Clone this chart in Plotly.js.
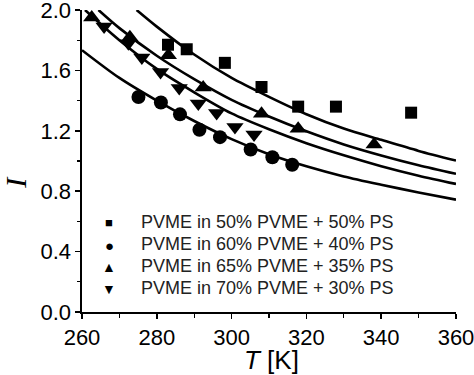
<!DOCTYPE html>
<html>
<head>
<meta charset="utf-8">
<script src="https://cdn.plot.ly/plotly-3.0.1.min.js"></script>
<style>html,body{margin:0;padding:0;background:#fff;overflow:hidden;}#plot{width:474px;height:375px;}</style>
</head>
<body>
<div id="plot"></div>
<script>
// Measured points
var labels = ["PVME in 50% PVME + 50% PS", "PVME in 60% PVME + 40% PS", "PVME in 65% PVME + 35% PS", "PVME in 70% PVME + 30% PS"];
var symbols = ["square", "circle", "triangle-up", "triangle-down"];
var legendGlyphs = ["\u25A0", "\u25CF", "\u25B2", "\u25BC"];

var sqT = [283, 288, 298.2, 308, 317.8, 327.9, 348];
var sqI = [1.77, 1.74, 1.65, 1.49, 1.36, 1.36, 1.32];

var ciT = [275.1, 281.1, 286.2, 291.4, 296.9, 305.1, 310.9, 316.2];
var ciI = [1.424, 1.387, 1.309, 1.207, 1.158, 1.076, 1.025, 0.975];

var tuT = [262.6, 272.8, 283.1, 292.4, 308.0, 317.8, 338.1];
var tuI = [1.95, 1.82, 1.70, 1.486, 1.313, 1.214, 1.11];

var tdT = [265.9, 272.4, 276, 281, 286, 291.1, 296, 300.9, 306];
var tdI = [1.89, 1.78, 1.686, 1.59, 1.484, 1.38, 1.318, 1.225, 1.176];

// Fitted curves
var fitSqT = [274.6, 280, 290, 300, 310, 320, 330, 340, 350, 360];
var fitSqI = [2.0, 1.89, 1.705, 1.55, 1.425, 1.31, 1.215, 1.14, 1.067, 1.003];

var fitCiT = [260, 270, 280, 290, 300, 310, 320, 330, 340, 350, 360];
var fitCiI = [1.734, 1.55, 1.40, 1.265, 1.145, 1.045, 0.965, 0.898, 0.843, 0.792, 0.744];

var fitTuT = [264.4, 270, 280, 290, 300, 310, 320, 330, 340, 350, 360];
var fitTuI = [2.0, 1.88, 1.697, 1.542, 1.405, 1.295, 1.197, 1.11, 1.037, 0.972, 0.915];

var fitTdT = [260.8, 270, 280, 290, 300, 310, 320, 330, 340, 350, 360];
var fitTdI = [2.0, 1.80, 1.61, 1.455, 1.315, 1.21, 1.118, 1.038, 0.966, 0.903, 0.848];

var xTicks = [260, 280, 300, 320, 340, 360];
var yTicks = [0.0, 0.4, 0.8, 1.2, 1.6, 2.0];

var pts = [[sqT, sqI], [ciT, ciI], [tuT, tuI], [tdT, tdI]];
var fits = [[fitSqT, fitSqI], [fitCiT, fitCiI], [fitTuT, fitTuI], [fitTdT, fitTdI]];
var sizes = [12, 14, 15, 15];
var glyphSizes = [13, 15, 14, 14];

var data = [];
fits.forEach(function (f) {
  data.push({x: f[0], y: f[1], mode: 'lines', type: 'scatter', showlegend: false,
    line: {color: '#000', width: 2.6, shape: 'spline', smoothing: 0.8}, hoverinfo: 'skip', cliponaxis: true});
});
pts.forEach(function (p, i) {
  data.push({x: p[0], y: p[1], mode: 'markers', type: 'scatter', showlegend: false, name: labels[i],
    marker: {symbol: symbols[i], size: sizes[i], color: '#000'}, cliponaxis: false});
});

var sansFam = 'Arial, "Liberation Sans", sans-serif';
var axisFont = {family: sansFam, size: 22, color: '#000'};

// Legend drawn as annotations (rows at fixed pitch)
var legRowY = [0.295, 0.221, 0.148, 0.075];
var annotations = [];
labels.forEach(function (lab, i) {
  annotations.push({xref: 'paper', yref: 'paper', x: 0.1524, y: legRowY[i] + 0.004, xanchor: 'left', yanchor: 'middle',
    text: lab, showarrow: false, font: {family: sansFam, size: 18, color: '#222'}});
  annotations.push({xref: 'paper', yref: 'paper', x: 0.0722, y: legRowY[i], xanchor: 'center', yanchor: 'middle',
    text: legendGlyphs[i], showarrow: false, font: {family: sansFam, size: glyphSizes[i], color: '#000'}});
});
annotations.push({xref: 'paper', yref: 'paper', x: 0.508, y: -0.158, xanchor: 'center', yanchor: 'middle',
  text: '<i>T</i> [K]', showarrow: false, font: {family: sansFam, size: 26, color: '#000'}});
annotations.push({xref: 'paper', yref: 'paper', x: -0.18, y: 0.43, xanchor: 'center', yanchor: 'middle', textangle: -90,
  text: '<i>I</i>', showarrow: false, font: {family: '"Liberation Serif", "Times New Roman", serif', size: 30, color: '#000'}});

var layout = {
  width: 474, height: 375,
  margin: {l: 82, r: 18, t: 10, b: 63},
  paper_bgcolor: '#fff', plot_bgcolor: '#fff',
  showlegend: false,
  annotations: annotations,
  xaxis: {
    range: [260, 360], tickvals: xTicks, ticktext: xTicks.map(String), ticklabeloverflow: 'allow',
    showgrid: false, zeroline: false, showline: true, linecolor: '#000', linewidth: 1.6,
    ticks: 'outside', ticklen: 5, tickwidth: 1.5, tickcolor: '#000', tickfont: axisFont,
    minor: {dtick: 10, tick0: 260, ticks: 'outside', ticklen: 4, tickwidth: 1.3, tickcolor: '#000', showgrid: false},
    fixedrange: true
  },
  yaxis: {
    range: [0, 2.0], tickvals: yTicks, ticktext: yTicks.map(function (v) { return v.toFixed(1); }), ticklabeloverflow: 'allow',
    showgrid: false, zeroline: false, showline: true, linecolor: '#000', linewidth: 1.6,
    ticks: 'outside', ticklen: 5, tickwidth: 1.5, tickcolor: '#000', tickfont: axisFont,
    minor: {dtick: 0.2, tick0: 0, ticks: 'outside', ticklen: 3, tickwidth: 1.3, tickcolor: '#000', showgrid: false},
    fixedrange: true
  }
};

Plotly.newPlot('plot', data, layout, {displayModeBar: false, staticPlot: true});
</script>
</body>
</html>
